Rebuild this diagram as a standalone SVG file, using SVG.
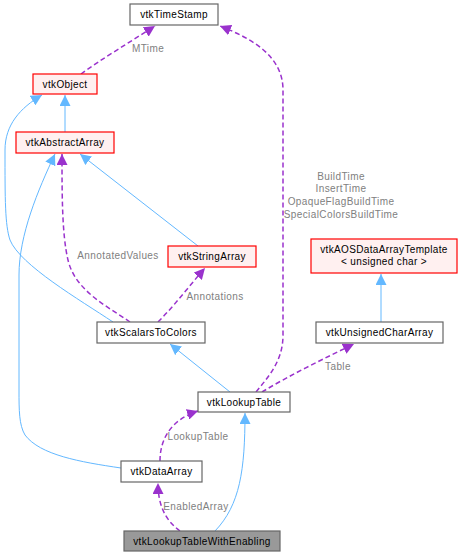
<svg xmlns="http://www.w3.org/2000/svg" width="461" height="555" viewBox="0 0 461 555">
<style>
.n rect{fill:#fff;stroke:#666;stroke-width:1.2}
.n.r rect{fill:#fff0f0;stroke:#f00}
.n.s rect{fill:#999;stroke:#666}
.n text{font-family:"Liberation Sans",Arial,sans-serif;font-size:10px;letter-spacing:0.35px;fill:#000;text-anchor:middle}
.e path{fill:none}
.b{stroke:#63b8ff;stroke-width:1}
.p{stroke:#9a32cd;stroke-width:1.5;stroke-dasharray:5,3}
.l{font-family:"Liberation Sans",Arial,sans-serif;font-size:10px;letter-spacing:0.4px;fill:#808080;text-anchor:middle}
</style>
<defs>
<marker id="ab" viewBox="0 0 10 10" refX="10" refY="5" markerWidth="11" markerHeight="11" markerUnits="userSpaceOnUse" orient="auto"><path d="M0,0L10,5L0,10z" fill="#63b8ff"/></marker>
<marker id="ap" viewBox="0 0 10 10" refX="10" refY="5" markerWidth="11" markerHeight="11" markerUnits="userSpaceOnUse" orient="auto"><path d="M0,0L10,5L0,10z" fill="#9a32cd"/></marker>
</defs>
<g id="edges" class="e">
<path class="p" marker-end="url(#ap)" d="M81,74C100,60 130,42 155,26"/>
<path class="p" marker-end="url(#ap)" d="M256,392C270,375 283,360 283,335L283,90C283,55 250,38 220,26"/>
<path class="b" marker-end="url(#ab)" d="M65,132L65,95"/>
<path class="b" marker-end="url(#ab)" d="M113,322C80,300 20,265 10,240C5,225 5,200 5,150C5,125 20,108 42,95"/>
<path class="b" marker-end="url(#ab)" d="M121,468C80,462 40,455 25,435C19,425 19,410 19,390L19,275C19,235 38,190 55,154"/>
<path class="b" marker-end="url(#ab)" d="M198,246L80,154"/>
<path class="p" marker-end="url(#ap)" d="M130,322C105,305 75,290 68,260C62,235 62,195 62,154"/>
<path class="p" marker-end="url(#ap)" d="M158,322C175,305 190,285 205,268"/>
<path class="b" marker-end="url(#ab)" d="M381,322L381,274"/>
<path class="b" marker-end="url(#ab)" d="M230,392L170,344"/>
<path class="p" marker-end="url(#ap)" d="M262,392C290,375 325,358 354,344"/>
<path class="p" marker-end="url(#ap)" d="M160,461C160,440 170,420 198,411"/>
<path class="b" marker-end="url(#ab)" d="M215,531C240,505 245,470 245,413"/>
<path class="p" marker-end="url(#ap)" d="M180,531C165,520 158,505 158,483"/>
<text class="l" x="148" y="52">MTime</text>
<text class="l" x="341" y="180">BuildTime</text>
<text class="l" x="341" y="192">InsertTime</text>
<text class="l" x="341" y="205">OpaqueFlagBuildTime</text>
<text class="l" x="341" y="218">SpecialColorsBuildTime</text>
<text class="l" x="118" y="259">AnnotatedValues</text>
<text class="l" x="215" y="300">Annotations</text>
<text class="l" x="338" y="370">Table</text>
<text class="l" x="198" y="440">LookupTable</text>
<text class="l" x="196" y="510">EnabledArray</text>
</g>
<g id="vtkTimeStamp" class="n"><rect x="130" y="4" width="88" height="21"/><text x="174" y="18">vtkTimeStamp</text></g>
<g id="vtkObject" class="n r"><rect x="33" y="74" width="64" height="20"/><text x="65" y="88">vtkObject</text></g>
<g id="vtkAbstractArray" class="n r"><rect x="16" y="132" width="98" height="21"/><text x="65" y="146">vtkAbstractArray</text></g>
<g id="vtkStringArray" class="n r"><rect x="168" y="246" width="88" height="21"/><text x="212" y="260">vtkStringArray</text></g>
<g id="vtkAOSDataArrayTemplate" class="n r"><rect x="311" y="239" width="146" height="34"/><text x="384" y="253">vtkAOSDataArrayTemplate</text><text x="384" y="265">&lt; unsigned char &gt;</text></g>
<g id="vtkUnsignedCharArray" class="n"><rect x="316" y="322" width="127" height="21"/><text x="379.5" y="336">vtkUnsignedCharArray</text></g>
<g id="vtkScalarsToColors" class="n"><rect x="97" y="322" width="108" height="21"/><text x="151" y="336">vtkScalarsToColors</text></g>
<g id="vtkLookupTable" class="n"><rect x="198" y="392" width="92" height="20"/><text x="244" y="406">vtkLookupTable</text></g>
<g id="vtkDataArray" class="n"><rect x="121" y="461" width="81" height="21"/><text x="161.5" y="475">vtkDataArray</text></g>
<g id="vtkLookupTableWithEnabling" class="n s"><rect x="124" y="531" width="156" height="20"/><text x="202" y="545">vtkLookupTableWithEnabling</text></g>
</svg>
